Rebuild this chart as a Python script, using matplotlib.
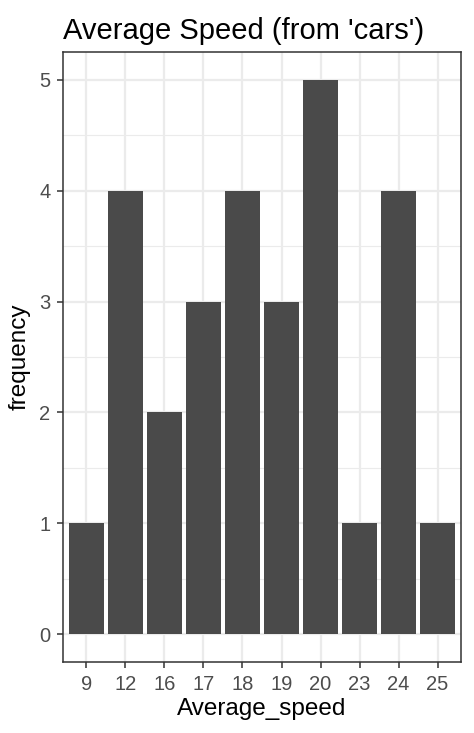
import matplotlib
matplotlib.use("Agg")
from matplotlib import pyplot as plt
import numpy as np

speeds = ["9", "12", "16", "17", "18", "19", "20", "23", "24", "25"]
frequency = [1, 4, 2, 3, 4, 3, 5, 1, 4, 1]
y_ticks = [0, 1, 2, 3, 4, 5]

plt.rcParams['font.family'] = ['Liberation Sans', 'DejaVu Sans']

fig = plt.figure(figsize=(4.74, 7.33), dpi=100)
ax = fig.add_axes([63 / 474, 71 / 733, 398 / 474, 610 / 733])

pos = np.arange(1, len(speeds) + 1)
ax.bar(pos, frequency, width=0.9, color='#4A4A4A', zorder=3)

ax.set_xlim(0.4, len(speeds) + 0.6)
ax.set_ylim(-0.25, 5.25)
ax.set_xticks(pos)
ax.set_xticklabels(speeds)
ax.set_yticks(y_ticks)
ax.set_yticks(np.arange(0.5, 5.5, 1), minor=True)

ax.grid(which='major', color='#EBEBEB', linewidth=1.6, zorder=0)
ax.grid(which='minor', axis='y', color='#EBEBEB', linewidth=0.8, zorder=0)
ax.tick_params(which='minor', length=0)
ax.tick_params(which='major', length=4.5, width=1.1, color='#333333',
               labelcolor='#4D4D4D', labelsize=14.5, pad=4.5)
for s in ax.spines.values():
    s.set_color('#333333')
    s.set_linewidth(1.1)

ax.set_xlabel('Average_speed', fontsize=17.5, labelpad=3)
ax.set_ylabel('frequency', fontsize=17.5, labelpad=6)
ax.set_title("Average Speed (from 'cars')", fontsize=21, loc='left', pad=9)

fig.savefig('out.png', dpi=100)
